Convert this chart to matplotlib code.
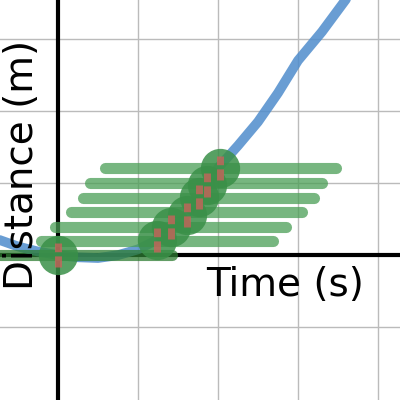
import numpy as np
import matplotlib
matplotlib.use("Agg")
import matplotlib.pyplot as plt

# curve samples (data units)
curve_x = [-0.73, -0.5, -0.25, 0.0, 0.25, 0.5, 0.75, 1.0, 1.2, 1.4, 1.6, 1.8,
           2.0, 2.25, 2.5, 2.75, 3.0, 3.3, 3.6]
curve_y = [0.21, 0.12, 0.05, 0.0, -0.03, -0.04, 0.0, 0.08, 0.19, 0.34, 0.55,
           0.85, 1.21, 1.52, 1.85, 2.25, 2.7, 3.1, 3.55]

# green horizontal bars: y, x start, x end
bar_y = [1.21, 1.00, 0.79, 0.60, 0.39, 0.19, 0.0]
bar_x0 = [0.59, 0.40, 0.31, 0.16, -0.04, -0.21, -0.73]
bar_x1 = [3.48, 3.30, 3.20, 3.05, 2.85, 2.69, 1.42]

# sample points on the curve
pt_x = [0.0, 1.24, 1.41, 1.61, 1.76, 1.86, 2.03]
pt_y = [0.0, 0.21, 0.39, 0.56, 0.81, 0.97, 1.21]

fig = plt.figure(figsize=(4, 4), dpi=100)
ax = fig.add_axes([0, 0, 1, 1])
ax.set_xlim(-0.725, 4.275)
ax.set_ylim(-2.01, 3.54)

for g in [-1, 1, 2, 3, 4]:
    ax.axvline(g, color="#bbbbbb", lw=1, zorder=0)
for g in [-1, 1, 2, 3]:
    ax.axhline(g, color="#bbbbbb", lw=1, zorder=0)
ax.axvline(0, color="black", lw=3, zorder=1)
ax.axhline(0, color="black", lw=3, zorder=1)

ax.plot(curve_x, curve_y, color="#4f8ccc", lw=7, alpha=0.85,
        solid_capstyle="round", solid_joinstyle="round", zorder=2)

for y, x0, x1 in zip(bar_y, bar_x0, bar_x1):
    col = "#2e7d32" if y == 0 else "#4a9e55"
    ax.plot([x0, x1], [y, y], color=col, lw=8, alpha=0.75,
            solid_capstyle="round", zorder=3)

ax.scatter(pt_x, pt_y, s=800, color="#3a9048", alpha=0.85, zorder=4,
           linewidths=0)
for x, y in zip(pt_x, pt_y):
    ax.plot([x, x], [y - 0.17, y + 0.17], color="#d0605c", lw=5,
            ls=(0, (1.6, 0.6)), alpha=0.75, zorder=5)

ax.text(2.84, -0.42, "Time (s)", fontsize=28, ha="center", va="center")
ax.text(-0.45, 1.25, "Distance (m)", fontsize=28, rotation=90,
        ha="center", va="center")

ax.set_xticks([])
ax.set_yticks([])
for s in ax.spines.values():
    s.set_visible(False)

fig.savefig("out.png", dpi=100)
